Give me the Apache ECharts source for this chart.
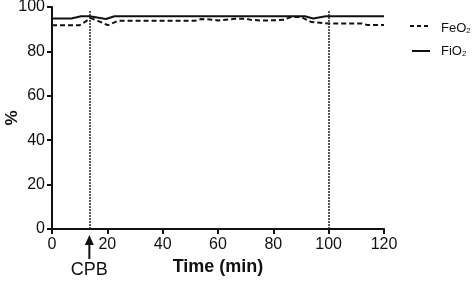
<!DOCTYPE html>
<html><head><meta charset="utf-8">
<script src="https://cdn.jsdelivr.net/npm/echarts@6/dist/echarts.min.js"></script>
<style>html,body{margin:0;padding:0;background:#fff}#c{width:474px;height:281px}</style>
</head><body><div id="c"></div>
<script>
// Time (min) and values (%)
const fio2Time = [0, 7, 10.5, 13.6, 19.5, 22.6, 30, 50, 70, 88, 91.4, 94.4, 99, 105, 120];
const fio2Vals = [94.8, 94.8, 95.8, 95.8, 94.6, 95.8, 95.8, 95.8, 95.8, 95.8, 95.8, 94.8, 95.8, 95.8, 95.8];
const feo2Time = [0, 10, 11.8, 14, 17.7, 20.2, 23.9, 35, 51.7, 54, 58, 60, 66, 70, 72, 75.8, 80, 84, 86, 90, 93.8, 100, 112, 114, 120];
const feo2Vals = [91.8, 91.8, 93.2, 95.0, 93.2, 91.8, 93.8, 93.8, 93.8, 94.6, 94.3, 93.9, 94.7, 94.7, 94.2, 93.9, 94.0, 94.3, 95.4, 95.5, 93.2, 92.6, 92.6, 91.9, 91.9];
const markTimes = [13.5, 100];
const xTicks = {min: 0, max: 120, interval: 20};
const yTicks = {min: 0, max: 100, interval: 20};
const seriesNames = ['FeO2', 'FiO2'];
const eventLabel = 'CPB';

const FONT = '"Liberation Sans", Arial, sans-serif';
const toPairs = (t, v) => t.map((x, i) => [x, v[i]]);
const chart = echarts.init(document.getElementById('c'));
chart.setOption({
  animation: false,
  grid: {left: 52, top: 7, width: 332, height: 222, containLabel: false, outerBoundsMode: 'none'},
  xAxis: {
    type: 'value', min: xTicks.min, max: xTicks.max, interval: xTicks.interval,
    name: 'Time (min)', nameLocation: 'middle', nameGap: 29, nameMoveOverlap: false,
    nameTextStyle: {fontFamily: FONT, fontSize: 18, fontWeight: 'bold', color: '#111'},
    axisLine: {lineStyle: {color: '#111', width: 2}},
    axisTick: {show: true, length: 5, lineStyle: {color: '#111', width: 2}},
    axisLabel: {fontFamily: FONT, fontSize: 16, color: '#111', margin: 8},
    splitLine: {show: false}
  },
  yAxis: {
    type: 'value', min: yTicks.min, max: yTicks.max, interval: yTicks.interval,
    name: '%', nameLocation: 'middle', nameGap: 31, nameRotate: 90, nameMoveOverlap: false,
    nameTextStyle: {fontFamily: FONT, fontSize: 17, fontWeight: 'bold', color: '#111'},
    axisLine: {show: true, lineStyle: {color: '#111', width: 2}},
    axisTick: {show: true, length: 5, lineStyle: {color: '#111', width: 2}},
    axisLabel: {fontFamily: FONT, fontSize: 16, color: '#111', margin: 7},
    splitLine: {show: false}
  },
  series: [
    {
      name: seriesNames[0], type: 'line', showSymbol: false, symbol: 'none',
      data: toPairs(feo2Time, feo2Vals),
      lineStyle: {color: '#111', width: 2, type: [5, 3]},
      itemStyle: {color: '#111'},
      markLine: {
        silent: true, symbol: 'none', label: {show: false},
        lineStyle: {color: '#222', width: 1.5, type: [2, 1]},
        data: markTimes.map(t => [{coord: [t, 0]}, {coord: [t, 98.6]}])
      }
    },
    {
      name: seriesNames[1], type: 'line', showSymbol: false, symbol: 'none',
      data: toPairs(fio2Time, fio2Vals),
      lineStyle: {color: '#111', width: 2, type: 'solid'},
      itemStyle: {color: '#111'}
    }
  ]
});
const p = chart.convertToPixel({xAxisIndex: 0, yAxisIndex: 0}, [markTimes[0], 0]);
const x = p[0], y0 = p[1];
const rich = {
  a: {font: '13px ' + FONT, fill: '#111', verticalAlign: 'bottom', lineHeight: 16},
  s: {font: '8px ' + FONT, fill: '#111', verticalAlign: 'bottom', lineHeight: 14}
};
const legText = n => '{a|' + n.slice(0, -1) + '}{s|' + n.slice(-1) + '}';
chart.setOption({
  graphic: [
    {type: 'line', shape: {x1: x, y1: y0 + 12, x2: x, y2: y0 + 30}, style: {stroke: '#111', lineWidth: 2}},
    {type: 'polygon', shape: {points: [[x, y0 + 6], [x - 4.5, y0 + 16], [x + 4.5, y0 + 16]]}, style: {fill: '#111'}},
    {type: 'text', x: x, y: y0 + 41, style: {text: eventLabel, font: '18px ' + FONT, fill: '#111', align: 'center', verticalAlign: 'middle'}},
    {type: 'line', shape: {x1: 410, y1: 26, x2: 428, y2: 26}, style: {stroke: '#111', lineWidth: 2, lineDash: [4, 3]}},
    {type: 'text', x: 441, y: 27, style: {text: legText(seriesNames[0]), rich: rich, verticalAlign: 'middle'}},
    {type: 'line', shape: {x1: 412, y1: 51, x2: 430, y2: 51}, style: {stroke: '#111', lineWidth: 2}},
    {type: 'text', x: 441, y: 50, style: {text: legText(seriesNames[1]), rich: rich, verticalAlign: 'middle'}}
  ]
});
</script></body></html>
